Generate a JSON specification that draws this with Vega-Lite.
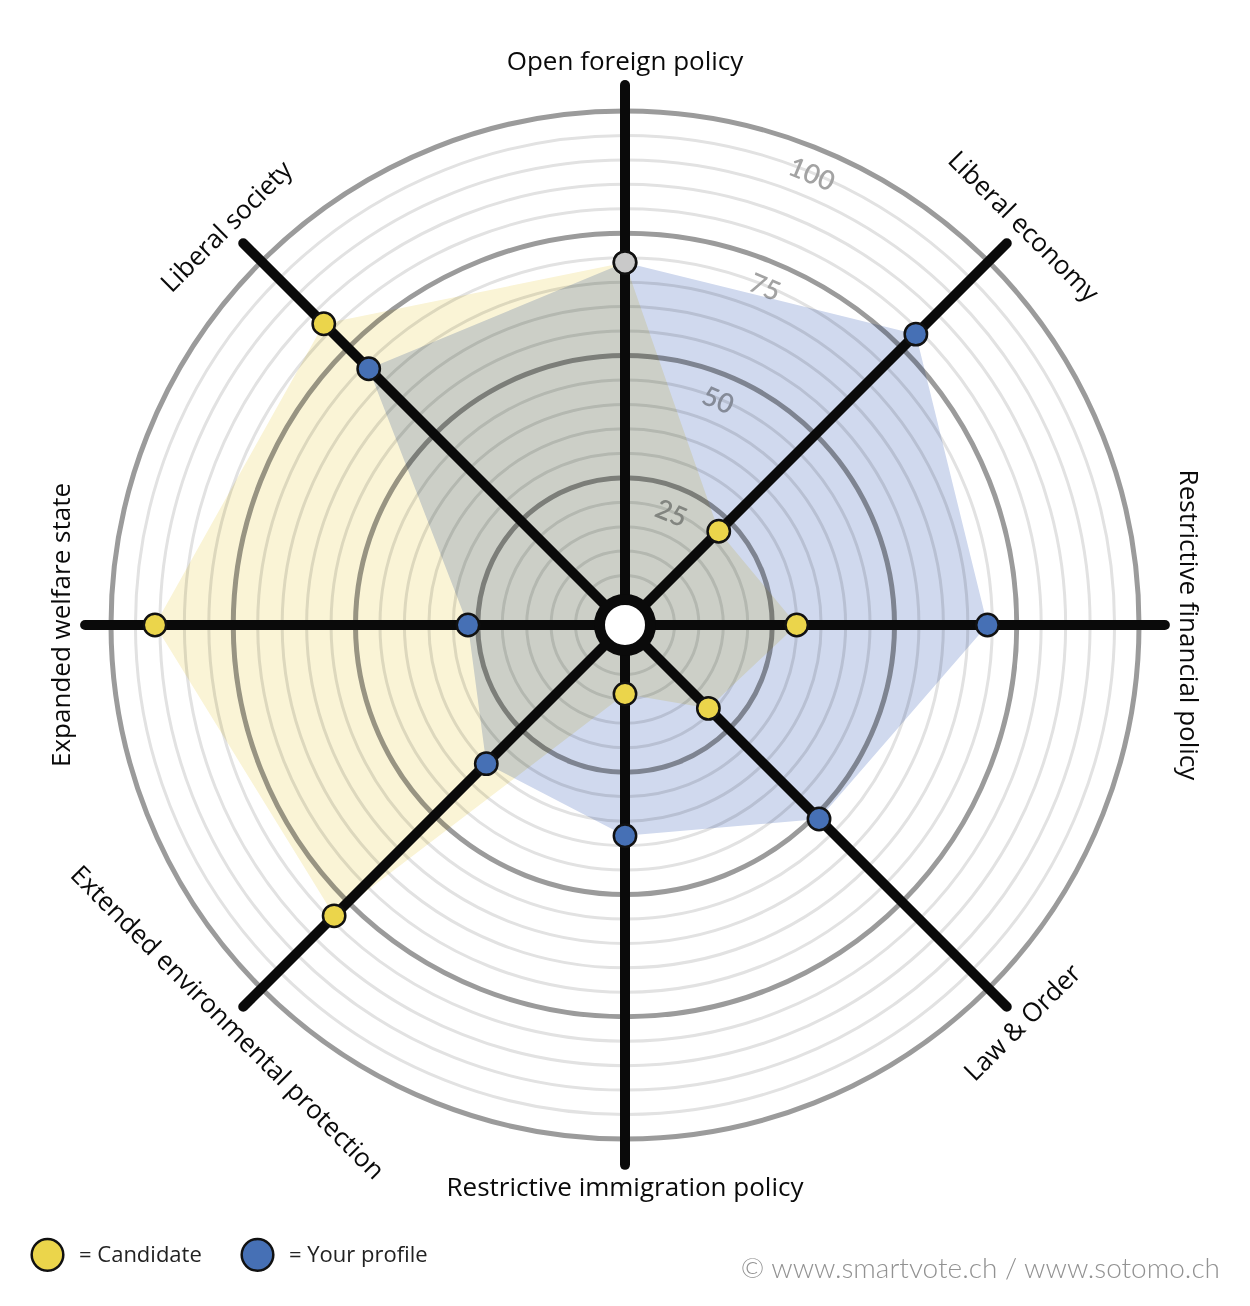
{
  "$schema": "https://vega.github.io/schema/vega-lite/v6.json",
  "width": 1250,
  "height": 1306,
  "padding": 0,
  "autosize": {"type": "none"},
  "background": "white",
  "title": {
    "text": "© www.smartvote.ch / www.sotomo.ch",
    "orient": "bottom",
    "anchor": "end",
    "frame": "group",
    "offset": -36,
    "baseline": "middle",
    "dx": -30,
    "font": "Lato",
    "fontSize": 28,
    "fontWeight": 300,
    "color": "#929292"
  },
  "datasets": {
    "axes": [
      {"i": 0, "axis": "Open foreign policy", "candidate": 69, "profile": 69},
      {"i": 1, "axis": "Liberal economy", "candidate": 22, "profile": 79},
      {"i": 2, "axis": "Restrictive financial policy", "candidate": 30, "profile": 69},
      {"i": 3, "axis": "Law & Order", "candidate": 19, "profile": 51},
      {"i": 4, "axis": "Restrictive immigration policy", "candidate": 9, "profile": 38},
      {"i": 5, "axis": "Extended environmental protection", "candidate": 79, "profile": 35},
      {"i": 6, "axis": "Expanded welfare state", "candidate": 91, "profile": 27},
      {"i": 7, "axis": "Liberal society", "candidate": 82, "profile": 69}
    ],
    "rings": [
      {"r": 5}, {"r": 10}, {"r": 15}, {"r": 20}, {"r": 25},
      {"r": 30}, {"r": 35}, {"r": 40}, {"r": 45}, {"r": 50},
      {"r": 55}, {"r": 60}, {"r": 65}, {"r": 70}, {"r": 75},
      {"r": 80}, {"r": 85}, {"r": 90}, {"r": 95}, {"r": 100}
    ]
  },
  "layer": [
    {
      "data": {"name": "rings"},
      "mark": {"type": "arc", "filled": false},
      "encoding": {
        "x": {"datum": 0, "type": "quantitative", "scale": {"domain": [-127.8, 127.8], "nice": false, "zero": false}, "axis": null},
        "y": {"datum": 0, "type": "quantitative", "scale": {"domain": [-139.26, 127.8], "nice": false, "zero": false}, "axis": null},
        "radius": {"field": "r", "type": "quantitative", "stack": null, "scale": {"type": "linear", "domain": [0, 100], "range": [25, 514]}, "legend": null},
        "stroke": {"condition": {"test": "datum.r % 25 == 0", "value": "#9b9b9b"}, "value": "#e2e2e2"},
        "strokeWidth": {"condition": {"test": "datum.r % 25 == 0", "value": 5}, "value": 3}
      }
    },
    {
      "data": {"name": "rings"},
      "transform": [
        {"filter": "datum.r % 25 == 0"},
        {"calculate": "(datum.r - 0.5) * sin(PI / 8)", "as": "lx"},
        {"calculate": "(datum.r - 0.5) * cos(PI / 8)", "as": "ly"}
      ],
      "mark": {"type": "text", "angle": 22.5, "font": "Lato", "fontSize": 27, "fontWeight": 600, "color": "#a3a3a3", "align": "center", "baseline": "middle"},
      "encoding": {
        "x": {"field": "lx", "type": "quantitative"},
        "y": {"field": "ly", "type": "quantitative"},
        "text": {"field": "r", "type": "quantitative"}
      }
    },
    {
      "data": {"name": "axes"},
      "transform": [
        {"calculate": "(datum.candidate + 5.11) * sin(datum.i * PI / 4)", "as": "px"},
        {"calculate": "(datum.candidate + 5.11) * cos(datum.i * PI / 4)", "as": "py"}
      ],
      "mark": {"type": "line", "interpolate": "linear-closed", "fill": "#faf4d6", "stroke": null, "blend": "multiply"},
      "encoding": {
        "x": {"field": "px", "type": "quantitative"},
        "y": {"field": "py", "type": "quantitative"},
        "order": {"field": "i"}
      }
    },
    {
      "data": {"name": "axes"},
      "transform": [
        {"calculate": "(datum.profile + 5.11) * sin(datum.i * PI / 4)", "as": "px"},
        {"calculate": "(datum.profile + 5.11) * cos(datum.i * PI / 4)", "as": "py"}
      ],
      "mark": {"type": "line", "interpolate": "linear-closed", "fill": "#d0d9ee", "stroke": null, "blend": "multiply"},
      "encoding": {
        "x": {"field": "px", "type": "quantitative"},
        "y": {"field": "py", "type": "quantitative"},
        "order": {"field": "i"}
      }
    },
    {
      "data": {"name": "axes"},
      "transform": [
        {"calculate": "110.4 * sin(datum.i * PI / 4)", "as": "ex"},
        {"calculate": "110.4 * cos(datum.i * PI / 4)", "as": "ey"}
      ],
      "mark": {"type": "rule", "color": "#0a0a0a", "strokeWidth": 10, "strokeCap": "round"},
      "encoding": {
        "x": {"field": "ex", "type": "quantitative"},
        "y": {"field": "ey", "type": "quantitative"},
        "x2": {"datum": 0},
        "y2": {"datum": 0}
      }
    },
    {
      "data": {"name": "axes"},
      "transform": [{"filter": "datum.i == 0"}],
      "mark": {"type": "point", "shape": "circle", "filled": true, "fill": "white", "stroke": "#0a0a0a", "strokeWidth": 11, "size": 2601, "opacity": 1},
      "encoding": {
        "x": {"datum": 0, "type": "quantitative"},
        "y": {"datum": 0, "type": "quantitative"}
      }
    },
    {
      "data": {"name": "axes"},
      "transform": [
        {"fold": ["candidate", "profile"], "as": ["series", "value"]},
        {"calculate": "(datum.value + 5.11) * sin(datum.i * PI / 4)", "as": "px"},
        {"calculate": "(datum.value + 5.11) * cos(datum.i * PI / 4)", "as": "py"}
      ],
      "mark": {"type": "point", "shape": "circle", "filled": true, "size": 500, "stroke": "#111111", "strokeWidth": 2.5, "opacity": 1},
      "encoding": {
        "x": {"field": "px", "type": "quantitative"},
        "y": {"field": "py", "type": "quantitative"},
        "fill": {
          "condition": {"test": "datum.candidate == datum.profile", "value": "#c9c9c9"},
          "field": "series",
          "type": "nominal",
          "scale": {"domain": ["candidate", "profile"], "range": ["#ebd54b", "#4670b5"]},
          "legend": {
            "orient": "bottom-left",
            "direction": "horizontal",
            "title": null,
            "offset": 30,
            "symbolType": "circle",
            "symbolSize": 1000,
            "symbolStrokeColor": "#111111",
            "symbolStrokeWidth": 2.5,
            "symbolOpacity": 1,
            "labelFont": "Open Sans",
            "labelFontSize": 22,
            "labelFontWeight": 500,
            "labelColor": "#222222",
            "labelOffset": 14,
            "columnPadding": 34,
            "labelExpr": "datum.label == 'candidate' ? '= Candidate' : '= Your profile'"
          }
        }
      }
    },
    {
      "data": {"name": "axes"},
      "transform": [
        {"calculate": "115.1 * sin(datum.i * PI / 4)", "as": "lx"},
        {"calculate": "115.1 * cos(datum.i * PI / 4)", "as": "ly"},
        {"calculate": "datum.i <= 2 ? datum.i * 45 : datum.i >= 6 ? datum.i * 45 - 360 : datum.i * 45 - 180", "as": "rot"}
      ],
      "mark": {"type": "text", "font": "Open Sans", "fontSize": 26, "fontWeight": 500, "color": "#0a0a0a", "align": "center", "baseline": "middle"},
      "encoding": {
        "x": {"field": "lx", "type": "quantitative"},
        "y": {"field": "ly", "type": "quantitative"},
        "angle": {"field": "rot", "type": "quantitative", "scale": null},
        "text": {"field": "axis", "type": "nominal"}
      }
    }
  ],
  "config": {"view": {"stroke": null}}
}
